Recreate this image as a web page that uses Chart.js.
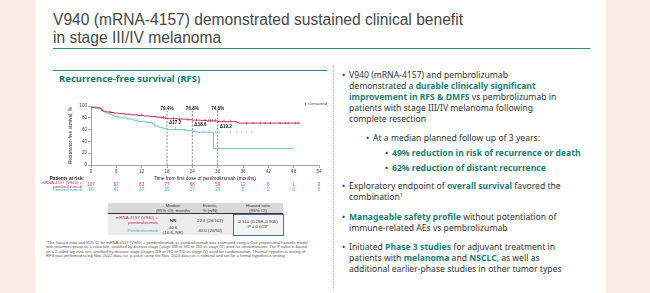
<!DOCTYPE html>
<html>
<head>
<meta charset="utf-8">
<script src="https://cdn.jsdelivr.net/npm/chart.js@4.4.0/dist/chart.umd.min.js"></script>
<style>
body{margin:0;width:650px;height:293px;background:#f9ece8;position:relative;overflow:hidden;font-family:"Noto Sans",sans-serif;color:#333;}
.abs{position:absolute;white-space:nowrap;}
#slide{left:35px;top:0;width:571px;height:293px;background:#fff;}
.title{left:53px;font-family:"Liberation Sans",sans-serif;font-size:15.6px;color:#474747;line-height:17px;}
#rule{left:53px;top:47.5px;width:537px;height:1.6px;background:#2a8c86;}
#secline{left:53px;top:70px;width:274px;height:1px;background:#2a8c86;}
#sechead{left:59px;top:72px;font-size:9.5px;font-weight:bold;color:#137a70;}
#sep{left:333px;top:66px;height:224px;border-left:1px dotted #c4c4c4;}
#km{left:40px;top:95px;width:290px;height:100px;}
.b{font-size:8.6px;line-height:11px;color:#333;}
.b .dot{position:absolute;left:-7px;}
.hl{color:#1b8077;font-weight:bold;}
sup{font-size:5px;line-height:0;vertical-align:3px;}
.tb{font-family:"Liberation Sans",sans-serif;font-size:4.4px;line-height:5px;text-align:center;}
#foot{left:46px;top:241px;font-family:"Liberation Sans",sans-serif;font-size:4.05px;line-height:4.45px;color:#555;}
</style>
</head>
<body>
<div id="slide" class="abs"></div>
<div class="abs title" style="top:11px;">V940 (mRNA-4157) demonstrated sustained clinical benefit</div>
<div class="abs title" style="top:29px;">in stage III/IV melanoma</div>
<div id="rule" class="abs"></div>
<div id="secline" class="abs"></div>
<div id="sechead" class="abs">Recurrence-free survival (RFS)</div>
<div id="sep" class="abs"></div>

<div class="abs" id="km"><canvas id="kmChart" width="290" height="100"></canvas></div>

<!-- summary table -->
<div class="abs" style="left:108px;top:203px;width:175px;height:10px;background:#d9d9d9;"></div>
<div class="abs" style="left:108px;top:213px;width:175px;height:0.8px;background:#333;"></div>
<div class="abs" style="left:108px;top:214px;width:125px;height:21px;background:#ececec;"></div>
<div class="abs" style="left:233px;top:213.5px;width:49px;height:20.5px;border:0.8px solid #4f6f9f;background:#f3f3f3;"></div>
<div class="abs tb" style="left:155px;top:203px;width:36px;">Median<br>(95% CI), months</div>
<div class="abs tb" style="left:190px;top:203px;width:40px;">Events,<br>% (n/N)</div>
<div class="abs tb" style="left:234px;top:203px;width:48px;">Hazard ratio<br>(95% CI)</div>
<div class="abs tb" style="left:110px;top:215px;width:48px;text-align:right;color:#c8325a;">mRNA-4157 (V940) +<br>pembrolizumab</div>
<div class="abs tb" style="left:155px;top:217.5px;width:36px;font-weight:bold;">NR</div>
<div class="abs tb" style="left:190px;top:217.5px;width:40px;">22.4 (24/107)</div>
<div class="abs tb" style="left:110px;top:227.5px;width:48px;text-align:right;color:#4bb5c8;">Pembrolizumab</div>
<div class="abs tb" style="left:155px;top:225px;width:36px;">40.6<br>(16.6–NR)</div>
<div class="abs tb" style="left:190px;top:227.5px;width:40px;">40.0 (20/50)</div>
<div class="abs tb" style="left:234px;top:219px;width:48px;">0.510 (0.288–0.906)<br><i>P</i> = 0.019*</div>

<div id="foot" class="abs">*The hazard ratio and 95% CI for mRNA-4157 (V940) + pembrolizumab vs pembrolizumab was estimated using a Cox proportional hazards model<br>with treatment group as a covariate, stratified by disease stage (stage IIIB or IIIC or IIID vs stage IV) used for randomization. The P value is based<br>on a 2-sided log-rank test stratified by disease stage (stages IIIB or IIIC or IIID vs stage IV) used for randomization. †Formal hypothesis testing of<br>RFS was performed using Nov. 2022 data cut; p-value using the Nov. 2023 data cut is nominal and not for a formal hypothesis testing.</div>

<!-- right bullets -->
<div class="abs b" style="left:349px;top:69.5px;"><span class="dot">•</span>V940 (mRNA-4157) and pembrolizumab<br>demonstrated a <span class="hl">durable clinically significant</span><br><span class="hl">improvement in RFS &amp; DMFS</span> vs pembrolizumab in<br>patients with stage III/IV melanoma following<br>complete resection</div>
<div class="abs b" style="left:373px;top:132.5px;"><span class="dot">•</span>At a median planned follow up of 3 years:</div>
<div class="abs b" style="left:392px;top:147.5px;"><span class="dot">•</span><span class="hl">49% reduction in risk of recurrence or death</span></div>
<div class="abs b" style="left:392px;top:162.5px;"><span class="dot">•</span><span class="hl">62% reduction of distant recurrence</span></div>
<div class="abs b" style="left:349px;top:180.5px;"><span class="dot">•</span>Exploratory endpoint of <span class="hl">overall survival</span> favored the<br>combination<sup>1</sup></div>
<div class="abs b" style="left:349px;top:211.5px;"><span class="dot">•</span><span class="hl">Manageable safety profile</span> without potentiation of<br>immune-related AEs vs pembrolizumab</div>
<div class="abs b" style="left:349px;top:241.5px;"><span class="dot">•</span>Initiated <span class="hl">Phase 3 studies</span> for adjuvant treatment in<br>patients with <span class="hl">melanoma</span> and <span class="hl">NSCLC</span>, as well as<br>additional earlier-phase studies in other tumor types</div>

<script>
// Kaplan-Meier RFS (months, % event-free)
const comboTime = [0, 1.5, 2.2, 2.6, 3.0, 3.6, 4.5, 5.5, 6.5, 8.0, 9.5, 11.0, 12.5, 14.0, 15.5, 16.5, 17.5, 18.0, 20.5, 22.5, 24.0, 26.0, 27.5, 30.0, 34.5, 35.0, 35.5, 49.5];
const comboRfs = [100, 98, 97, 95, 92, 91, 90, 89, 88, 87, 86, 85, 84, 83, 82, 81, 80, 79.4, 78.5, 77.8, 76.8, 76.0, 75.5, 74.8, 73.5, 72.2, 71.0, 71.0];
const pembroTime = [0, 1.0, 2.5, 3.0, 3.5, 4.5, 5.0, 5.5, 6.5, 8.5, 10.0, 11.0, 13.0, 14.5, 15.0, 16.0, 17.0, 18.0, 22.5, 24.0, 25.0, 29.0, 42.0, 48.0];
const pembroRfs = [100, 98, 96, 92, 90, 88, 86, 84, 82, 80, 78, 76, 74, 72, 70, 66, 64, 62.2, 60, 58.2, 57, 55.6, 27.8, 27.8];
const comboCensor = [4.5, 12.0, 16.8, 17.2, 17.6, 19.5, 21.0, 23.0, 25.0, 27.0, 27.8, 28.3, 28.8, 29.5, 31.5, 33.0, 36.9, 38.4, 40.1, 41.2, 42.5, 44.8, 46.0, 46.7, 48.4, 49.1];
const pembroCensor = [20.0, 24.5, 26.5, 28.0, 29.5, 30.0, 30.5, 33.0, 34.5, 35.7, 36.9, 38.0];

// landmark timepoints
const markTimes = [18, 24, 30];
const markLabels = ['79.4%', '76.8%', '74.8%'];
const deltaLabels = ['Δ17.2', 'Δ18.6', 'Δ19.2'];

// patients at risk
const riskTimes = [0, 6, 12, 18, 24, 30, 36, 42, 48, 54];
const riskCombo = [107, 97, 83, 77, 68, 59, 12, 6, 1, 0];
const riskPembro = [50, 41, 37, 29, 27, 19, 5, 2, 0, 0];

const RED = '#c8325a';
const TEAL = '#6cc4d3';

function survAt(times, surv, t) {
    let v = surv[0];
    for (let i = 0; i < times.length; i++) {
        if (times[i] <= t) v = surv[i];
    }
    return v;
}
function pts(times, vals) {
    return times.map((t, i) => ({x: t, y: vals[i]}));
}
function censorPts(times, surv, cens) {
    return cens.map(t => ({x: t, y: survAt(times, surv, t)}));
}

const kmText = {
    id: 'kmText',
    afterDraw(chart) {
        const ctx = chart.ctx;
        const a = chart.chartArea;
        const x = chart.scales.x, y = chart.scales.y;
        ctx.save();
        ctx.fillStyle = '#222';
        ctx.textBaseline = 'middle';

        // y title
        ctx.save();
        ctx.font = '4.6px "Liberation Sans"';
        ctx.translate(a.left - 20, (a.top + a.bottom) / 2);
        ctx.rotate(-Math.PI / 2);
        ctx.textAlign = 'center';
        ctx.fillText('Recurrence-free survival, %', 0, 0);
        ctx.restore();

        // landmark labels
        ctx.font = 'bold 4.6px "Liberation Sans"';
        ctx.textAlign = 'center';
        markTimes.forEach((t, i) => {
            ctx.fillText(markLabels[i], x.getPixelForValue(t), y.getPixelForValue(95));
        });
        ctx.textAlign = 'left';
        markTimes.forEach((t, i) => {
            const mid = (survAt(comboTime, comboRfs, t) + survAt(pembroTime, pembroRfs, t)) / 2;
            ctx.fillText(deltaLabels[i], x.getPixelForValue(t) + 2, y.getPixelForValue(mid));
        });

        // censored key
        ctx.strokeStyle = '#333';
        ctx.lineWidth = 0.7;
        ctx.beginPath();
        ctx.moveTo(a.right - 13.5, a.top - 3.5);
        ctx.lineTo(a.right - 13.5, a.top - 0.5);
        ctx.stroke();
        ctx.font = '4.4px "Liberation Sans"';
        ctx.fillStyle = '#444';
        ctx.fillText('Censored', a.right - 11, a.top - 2);

        // x title
        ctx.fillStyle = '#222';
        ctx.textAlign = 'center';
        ctx.font = '4.8px "Liberation Sans"';
        ctx.fillText('Time from first dose of pembrolizumab (months)', (a.left + a.right) / 2, a.bottom + 13.5);

        // patients at risk
        ctx.textAlign = 'right';
        ctx.font = 'bold 4.6px "Liberation Sans"';
        ctx.fillText('Patients at risk:', a.left - 7, a.bottom + 14);
        ctx.font = '4.2px "Liberation Sans"';
        ctx.fillStyle = RED;
        ctx.fillText('mRNA-4157 (V940) +', a.left - 9, a.bottom + 18);
        ctx.fillText('pembrolizumab', a.left - 9, a.bottom + 21.5);
        ctx.fillStyle = '#3aaec2';
        ctx.fillText('Pembrolizumab', a.left - 9, a.bottom + 25);
        ctx.textAlign = 'center';
        ctx.font = '4.6px "Liberation Sans"';
        riskTimes.forEach((t, i) => {
            ctx.fillStyle = RED;
            ctx.fillText(String(riskCombo[i]), x.getPixelForValue(t), a.bottom + 19.5);
            ctx.fillStyle = '#3aaec2';
            ctx.fillText(String(riskPembro[i]), x.getPixelForValue(t), a.bottom + 25);
        });
        ctx.restore();
    }
};

const dashSets = markTimes.map(t => ({
    type: 'line',
    data: [{x: t, y: 0}, {x: t, y: 92}],
    borderColor: '#555',
    borderWidth: 0.7,
    borderDash: [2, 1.5],
    pointRadius: 0,
    order: 5
}));

new Chart(document.getElementById('kmChart').getContext('2d'), {
    type: 'line',
    data: {
        datasets: [{
            label: 'mRNA-4157 (V940) + pembrolizumab',
            data: pts(comboTime, comboRfs),
            borderColor: RED,
            borderWidth: 1,
            stepped: 'after',
            pointRadius: 0,
            order: 1
        }, {
            label: 'Pembrolizumab',
            data: pts(pembroTime, pembroRfs),
            borderColor: TEAL,
            borderWidth: 1,
            stepped: 'after',
            pointRadius: 0,
            order: 2
        }, {
            label: 'Censored combo',
            data: censorPts(comboTime, comboRfs, comboCensor),
            showLine: false,
            pointStyle: 'line',
            rotation: 90,
            pointRadius: 1.3,
            borderColor: RED,
            borderWidth: 0.7,
            order: 0
        }, {
            label: 'Censored pembro',
            data: censorPts(pembroTime, pembroRfs, pembroCensor),
            showLine: false,
            pointStyle: 'line',
            rotation: 90,
            pointRadius: 1.3,
            borderColor: TEAL,
            borderWidth: 0.7,
            order: 0
        }].concat(dashSets)
    },
    options: {
        responsive: false,
        animation: false,
        layout: {padding: {top: 11, right: 11, left: 0, bottom: 0}},
        plugins: {legend: {display: false}, tooltip: {enabled: false}},
        scales: {
            x: {
                type: 'linear',
                min: 0,
                max: 54,
                afterFit: s => { s.height = 30; },
                ticks: {stepSize: 6, autoSkip: false, maxRotation: 0, padding: 1, color: '#444', font: {size: 4.6, family: 'Liberation Sans'}},
                grid: {drawOnChartArea: false, tickLength: 3, color: '#666', lineWidth: 0.6},
                border: {color: '#666', width: 0.6}
            },
            y: {
                min: 0,
                max: 100,
                afterFit: s => { s.width = 51; },
                ticks: {stepSize: 20, padding: 1, color: '#444', font: {size: 4.6, family: 'Liberation Sans'}},
                grid: {drawOnChartArea: false, tickLength: 3, color: '#666', lineWidth: 0.6},
                border: {color: '#666', width: 0.6}
            }
        }
    },
    plugins: [kmText]
});
</script>
</body>
</html>
